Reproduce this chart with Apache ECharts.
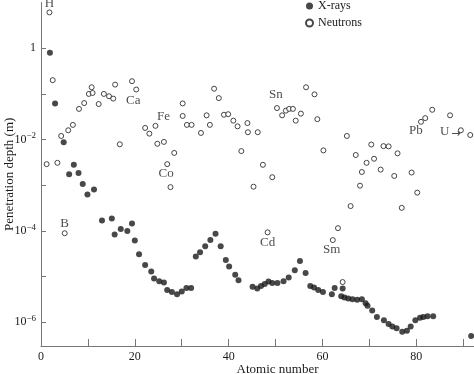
<!DOCTYPE html>
<html><head><meta charset="utf-8">
<script src="https://cdn.jsdelivr.net/npm/echarts@6/dist/echarts.min.js"></script>
<style>html,body{margin:0;padding:0;background:#fff}#c{width:474px;height:374px}</style>
</head><body><div id="c"></div>
<script>
// Atomic numbers (x) and penetration depths in metres (y)
const xrayZ = [1.9,3.0,4.84,6.0,7.0,8.0,8.9,9.9,11.3,13.0,15.1,15.7,17.0,18.4,19.4,20.0,20.9,22.2,23.5,24.1,25.2,26.2,26.9,27.9,29.0,30.0,31.0,32.0,33.0,33.9,35.0,36.1,37.2,38.3,39.4,40.1,41.4,42.1,45.1,46.1,46.9,47.7,48.5,49.3,50.4,51.7,52.8,54.1,55.2,56.4,57.4,58.2,59.1,60.1,62.0,62.6,64.0,64.3,64.7,65.5,66.4,67.4,68.4,69.2,69.6,70.6,71.6,73.1,74.1,74.9,75.8,77.0,78.0,78.8,79.8,80.8,81.5,82.4,83.6,91.7];
const xrayDepth = [0.80,6.2e-2,8.7e-3,1.74e-3,2.8e-3,1.86e-3,1.07e-3,6.3e-4,8.1e-4,1.7e-4,1.86e-4,8.3e-5,1.1e-4,1.0e-4,1.45e-4,6.2e-5,3.1e-5,1.8e-5,1.3e-5,9.1e-6,7.9e-6,7.4e-6,5.1e-6,4.6e-6,4.1e-6,4.7e-6,5.6e-6,5.6e-6,2.75e-5,3.4e-5,4.6e-5,6.3e-5,8.7e-5,4.6e-5,2.3e-5,1.66e-5,1.1e-5,8.3e-6,6.0e-6,5.5e-6,6.2e-6,6.9e-6,7.8e-6,7.2e-6,7.2e-6,7.9e-6,9.5e-6,1.38e-5,2.2e-5,1.2e-5,6.2e-6,5.8e-6,5.1e-6,4.6e-6,4.1e-6,5.6e-6,3.7e-6,5.5e-6,3.5e-6,3.3e-6,3.2e-6,3.1e-6,3.2e-6,2.6e-6,2.3e-6,1.8e-6,1.3e-6,1.1e-6,9.1e-7,8.1e-7,7.4e-7,6.2e-7,6.5e-7,8.1e-7,1.1e-6,1.26e-6,1.3e-6,1.35e-6,1.35e-6,5.0e-7];
const neutronZ = [1.8,2.5,1.2,3.5,4.3,5.05,5.8,6.8,8.1,9.2,10.2,10.8,11.0,12.3,13.4,14.5,15.4,15.8,16.8,19.4,20.3,22.2,23.1,24.4,24.8,26.2,26.9,27.6,28.4,30.2,30.2,31.1,32.1,34.1,35.3,36.0,36.9,37.9,39.0,39.9,41.0,41.9,42.7,44.0,44.1,45.3,46.2,47.3,48.3,49.3,50.3,51.4,52.2,52.9,53.7,54.3,55.4,56.5,58.3,58.9,60.2,62.2,63.3,64.3,65.2,66.0,67.1,68.0,68.4,69.4,70.4,71.0,72.4,73.0,74.1,75.3,76.0,76.9,79.0,80.2,81.0,81.9,83.4,87.2,89.5,91.5];
const neutronDepth = [6.1,0.20,2.9e-3,3.1e-3,1.2e-2,8.9e-5,1.6e-2,2.1e-2,4.7e-2,6.3e-2,0.10,0.14,0.105,6.0e-2,0.10,8.9e-2,7.9e-2,0.16,7.9e-3,0.19,0.125,1.8e-2,1.35e-2,2.0e-2,8.1e-3,8.9e-3,2.9e-3,9.1e-4,5.1e-3,6.2e-2,3.3e-2,2.1e-2,2.1e-2,1.4e-2,3.4e-2,2.1e-2,0.13,8.1e-2,3.5e-2,3.6e-2,2.6e-2,1.95e-2,5.6e-3,2.3e-2,1.45e-2,9.3e-4,1.45e-2,2.8e-3,9.3e-5,1.5e-3,4.9e-2,3.4e-2,4.3e-2,4.7e-2,4.7e-2,2.6e-2,3.7e-2,0.14,9.8e-2,2.8e-2,5.8e-3,6.3e-5,1.15e-4,7.6e-6,1.2e-2,3.5e-4,4.6e-3,9.8e-4,1.95e-3,3.1e-3,7.8e-3,3.8e-3,2.2e-3,7.2e-3,7.1e-3,1.6e-3,5.0e-3,3.2e-4,1.9e-3,6.9e-4,2.45e-2,2.95e-2,4.5e-2,3.4e-2,1.6e-2,1.26e-2];
// element labels attached to neutron points
const elementNames = ['H','B','Ca','Fe','Co','Cd','Sn','Sm','Pb','U'];
const elementIndex = [0,5,20,23,26,48,50,61,80,85];
// axis ticks
const xTicks = [0,10,20,30,40,50,60,70,80,90];
const xTickLabels = [0,20,40,60,80];
const yTicks = [1e-6,1e-5,1e-4,1e-3,1e-2,1e-1,1];
const yTickLabels = [1e-6,1e-4,1e-2,1];

// label placement (style only)
const labelOffset = {H:[0,-9],B:[0,-10],Ca:[-3,11],Fe:[8,-9],Co:[-1,9],Cd:[0,10],Sn:[-1,-13],Sm:[-1,9.5],Pb:[-5,9],U:[-20,-3]};
const FONT = '"Liberation Serif", "DejaVu Serif", serif';
const INK = '#1a1a1a';

const xrayData = xrayZ.map((z,i)=>[z, xrayDepth[i]]);
const neutronData = neutronZ.map((z,i)=>{
  const k = elementIndex.indexOf(i);
  if (k < 0) return [z, neutronDepth[i]];
  const name = elementNames[k];
  return {value:[z, neutronDepth[i]], label:{show:true, position:'inside', offset:labelOffset[name],
    formatter: name === 'U' ? 'U{a|\u2192}' : name, color:INK, fontFamily:FONT, fontSize:13,
    rich:{a:{fontFamily:'"DejaVu Sans", sans-serif', fontSize:11, color:INK, padding:[5,0,0,2]}}}};
});

const chart = echarts.init(document.getElementById('c'), null, {renderer:'canvas'});
chart.setOption({
  animation:false,
  backgroundColor:'#fff',
  textStyle:{fontFamily:FONT, color:INK},
  grid:{left:41, right:0, top:2.6, bottom:28, containLabel:false, outerBoundsMode:'none'},
  legend:{
    orient:'vertical', left:305, top:0, padding:0, itemGap:5,
    itemWidth:7, itemHeight:7,
    textStyle:{fontFamily:FONT, fontSize:12, color:INK},
    data:[{name:'X-rays', icon:'circle'},{name:'Neutrons', icon:'circle'}]
  },
  xAxis:{
    type:'value', min:0, max:92.3,
    name:'Atomic number', nameLocation:'middle', nameGap:17, nameMoveOverlap:false,
    nameTextStyle:{fontFamily:FONT, fontSize:13, color:INK, padding:[0,0,0,40]},
    axisLine:{show:true, lineStyle:{color:'#777', width:1}},
    axisTick:{show:true, inside:true, length:7, customValues:xTicks, lineStyle:{color:'#777'}},
    axisLabel:{customValues:xTickLabels, margin:5, fontFamily:FONT, fontSize:12, color:INK},
    splitLine:{show:false}
  },
  yAxis:{
    type:'log', logBase:10, min:3.02e-7, max:10,
    name:'Penetration depth (m)', nameLocation:'middle', nameGap:25, nameMoveOverlap:false,
    nameTextStyle:{fontFamily:FONT, fontSize:13, color:INK},
    axisLine:{show:true, lineStyle:{color:'#777', width:1}},
    axisTick:{show:true, inside:true, length:5, customValues:yTicks, lineStyle:{color:'#777'}},
    axisLabel:{customValues:yTickLabels, margin:5, fontFamily:FONT, fontSize:12, color:INK,
      formatter:function(v){ const e=Math.round(Math.log10(v)); return e===0 ? '1' : '10{s|\u2212'+(-e)+'}'; },
      rich:{s:{fontSize:9, fontFamily:FONT, color:INK, padding:[0,0,7,0]}}},
    splitLine:{show:false}
  },
  series:[
    {name:'X-rays', type:'scatter', data:xrayData, symbol:'circle', symbolSize:6,
     itemStyle:{color:INK}, z:3},
    {name:'Neutrons', type:'scatter', data:neutronData, symbol:'circle', symbolSize:5,
     itemStyle:{color:'#fff', borderColor:INK, borderWidth:1}, z:4}
  ]
});
</script></body></html>
